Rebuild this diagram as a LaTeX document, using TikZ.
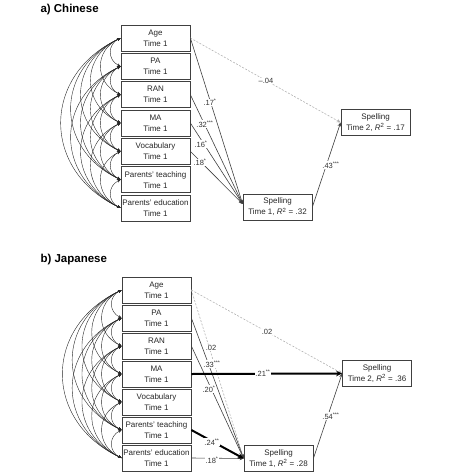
\documentclass[tikz,border=0pt]{standalone}
\usepackage{fontspec}
\setmainfont{Liberation Sans}
\usetikzlibrary{arrows.meta}
\newcommand\sig[1]{\textsuperscript{#1}}
\begin{document}
\begin{tikzpicture}[x=1pt,y=-1pt,
  box/.style={draw=black!75, line width=0.7pt, minimum width=69pt, minimum height=26pt,
    inner sep=0pt, align=center, font=\fontsize{8}{11}\selectfont, text=black!85},
  cov/.style={draw=black!85, line width=0.4pt,
    {Stealth[length=3.5pt,width=3pt]}-{Stealth[length=3.5pt,width=3pt]}},
  reg/.style={draw=black!75, line width=0.6pt, -{Stealth[length=4pt,width=3.5pt]}},
  ns/.style={draw=black!30, dash pattern=on 2pt off 1.5pt, line width=0.6pt,
    -{Stealth[length=4pt,width=3.5pt]}},
  strong/.style={draw=black, line width=2pt, -{Stealth[length=6pt,width=5.5pt]}},
  lab/.style={font=\fontsize{7.5}{8}\selectfont, inner sep=0.6pt, text=black!80, fill=white},
  ttl/.style={font=\fontsize{11.5}{13}\selectfont\bfseries, anchor=base west}
]
\useasboundingbox (0,0) rectangle (474,474);

% ---------- panel a ----------
\node[ttl] (ta) at (37,12.3) {a) Chinese};
\foreach \t [count=\i from 0] in {Age, PA, RAN, MA, Vocabulary, Parents' teaching, Parents' education}
  \node[box] (a\i) at (155.5,{38+28.33*\i}) {\t\\Time 1};
\foreach \i in {0,...,5}{
  \pgfmathtruncatemacro\s{\i+1}
  \foreach \j in {\s,...,6}
    \draw[cov] (a\i.west) to[out=205,in=155,looseness=1.32] (a\j.west);
}
\node[box] (T1a) at (277.5,207) {Spelling\\Time 1, \textit{R}\sig{2} = .32};
\node[box] (T2a) at (375.5,122.5) {Spelling\\Time 2, \textit{R}\sig{2} = .17};
\coordinate (T1ain) at ([yshift=3pt]T1a.west);

\draw[ns] (a0.east) -- (T2a.west);
\draw[reg] (a0.east) -- (T1ain);
\draw[reg] (a2.east) -- (T1ain);
\draw[reg] (a3.east) -- (T1ain);
\draw[reg] (a4.east) -- (T1ain);
\draw[reg] (T1a.east) -- (T2a.west);

\node[lab] (la1) at (266,81) {–.04};
\node[lab] (la2) at (210,102.5) {.17\sig{*}};
\node[lab] (la3) at (205,124) {.32\sig{***}};
\node[lab] (la4) at (201,144) {.16\sig{*}};
\node[lab] (la5) at (200,162.5) {.18\sig{*}};
\node[lab] (la6) at (331,165) {.43\sig{***}};

% ---------- panel b ----------
\node[ttl] (tb) at (37,262.3) {b) Japanese};
\foreach \t [count=\i from 0] in {Age, PA, RAN, MA, Vocabulary, Parents' teaching, Parents' education}
  \node[box] (b\i) at (156.5,{290+28*\i}) {\t\\Time 1};
\foreach \i in {0,...,5}{
  \pgfmathtruncatemacro\s{\i+1}
  \foreach \j in {\s,...,6}
    \draw[cov] (b\i.west) to[out=205,in=155,looseness=1.32] (b\j.west);
}
\node[box] (T1b) at (278.5,458.5) {Spelling\\Time 1, \textit{R}\sig{2} = .28};
\node[box] (T2b) at (377,373.5) {Spelling\\Time 2, \textit{R}\sig{2} = .36};

\draw[ns] (b0.east) -- (T2b.west);
\draw[ns] (b0.east) -- (T1b.west);
\draw[reg] (b1.east) -- (T1b.west);
\draw[reg] (b2.east) -- (T1b.west);
\draw[reg] (b6.east) -- (T1b.west);
\draw[strong] (b3.east) -- (T2b.west);
\draw[strong] (b5.east) -- (T1b.west);
\draw[reg] (T1b.east) -- (T2b.west);

\node[lab] (lb1) at (267,332) {.02};
\node[lab] (lb2) at (211,348) {.02};
\node[lab] (lb3) at (212,364) {.33\sig{***}};
\node[lab] (lb4) at (209,389) {.20\sig{*}};
\node[lab] (lb5) at (263,373) {.21\sig{**}};
\node[lab] (lb6) at (212,442) {.24\sig{**}};
\node[lab] (lb7) at (212,460) {.18\sig{*}};
\node[lab] (lb8) at (331,416) {.54\sig{***}};
\end{tikzpicture}
\end{document}
